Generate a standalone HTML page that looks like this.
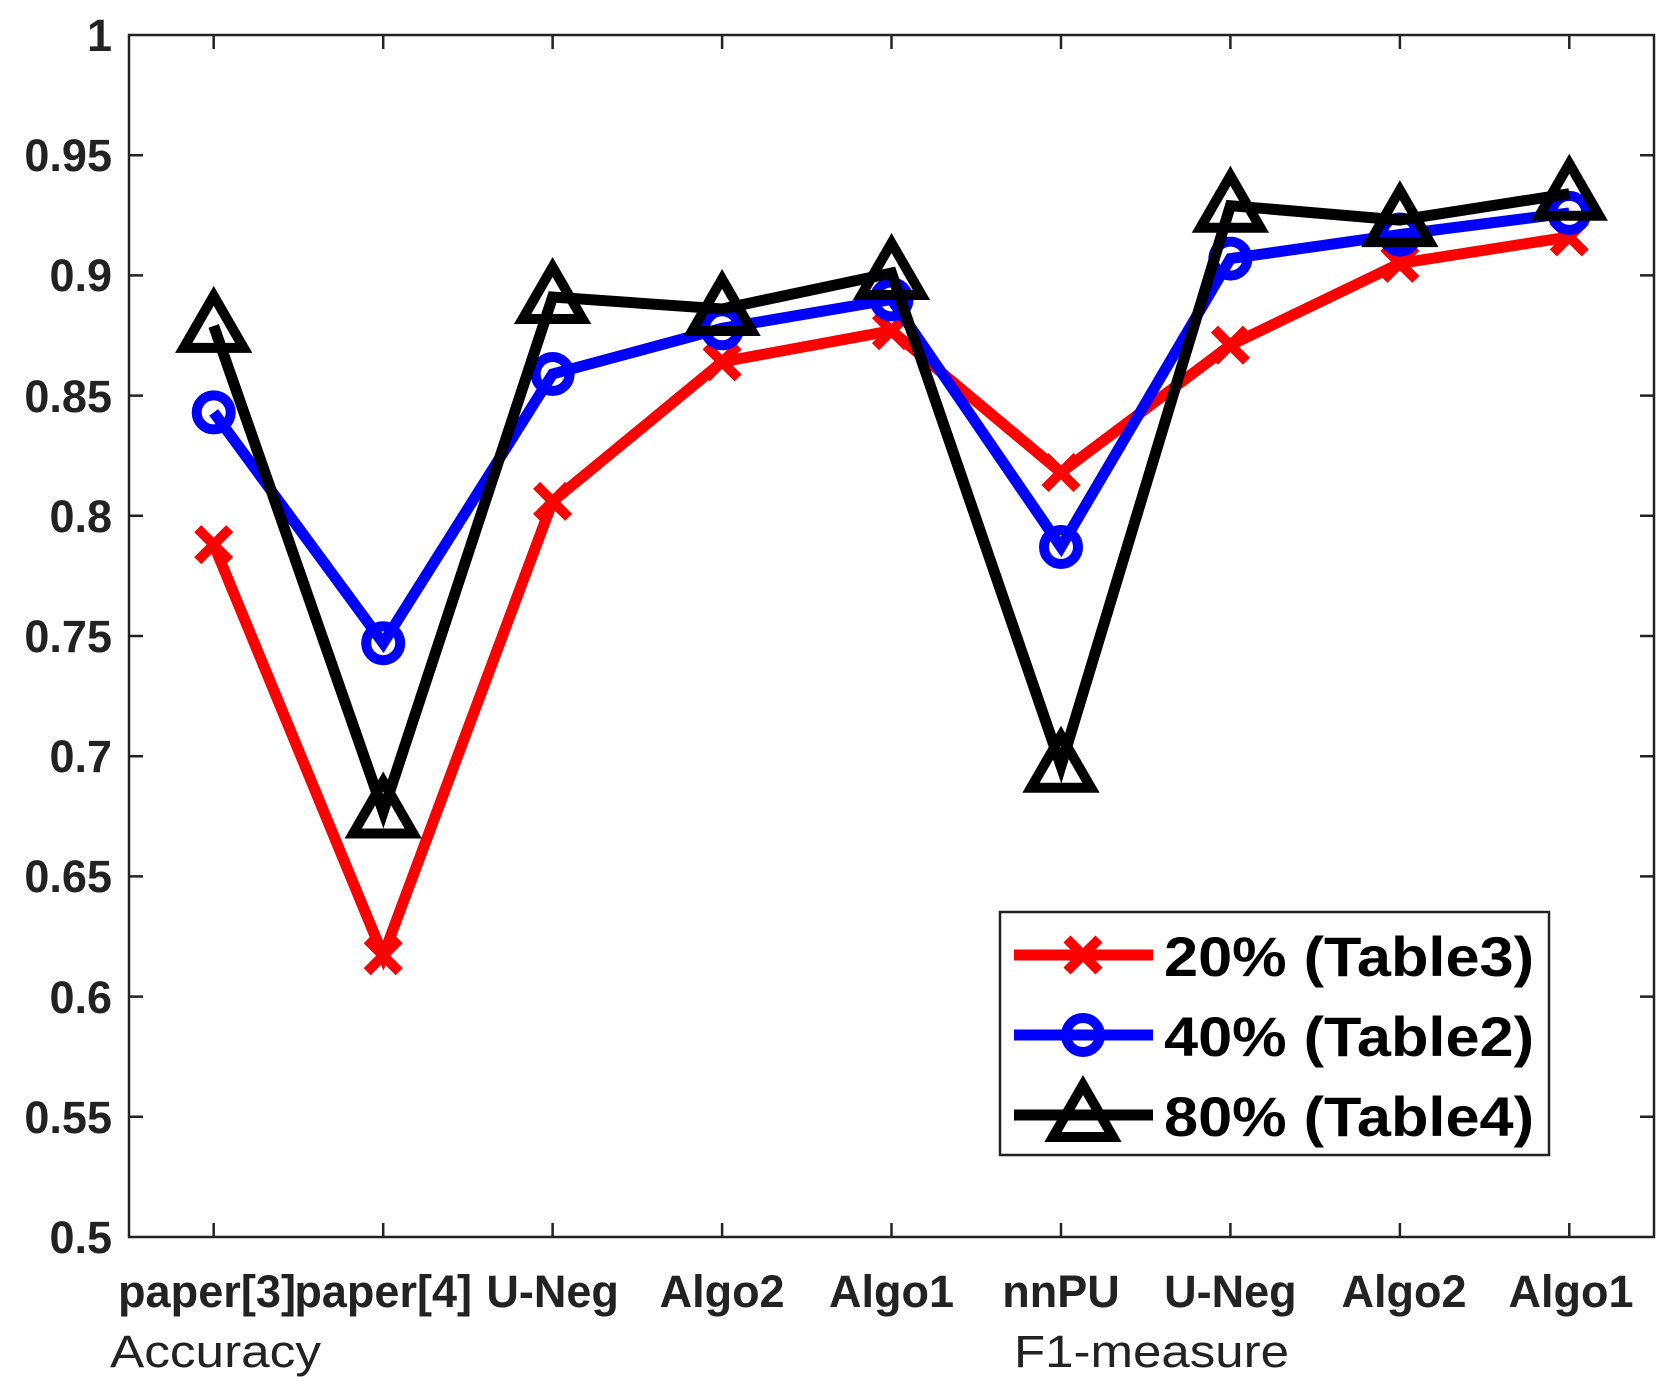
<!DOCTYPE html>
<html><head><meta charset="utf-8"><style>html,body{margin:0;padding:0;background:#fff}svg{display:block}</style></head>
<body>
<svg width="1677" height="1398" viewBox="0 0 1677 1398" xmlns="http://www.w3.org/2000/svg" xmlns:xlink="http://www.w3.org/1999/xlink" font-family="Liberation Sans, sans-serif">
<defs>
<path id="mx" d="M-16,-16L16,16M-16,16L16,-16" stroke="#f00" stroke-width="10" fill="none"/>
<circle id="mo" r="17" fill="none" stroke="#00f" stroke-width="10"/>
<path id="mt" d="M0,-30L30,22L-30,22Z" fill="none" stroke="#000" stroke-width="10"/>
</defs>
<rect width="1677" height="1398" fill="#fff"/>
<rect x="129" y="35" width="1525" height="1202" fill="none" stroke="#222" stroke-width="2.5"/>
<g stroke="#222" stroke-width="2.5">
<path d="M129,1116.8h14M129,996.6h14M129,876.4h14M129,756.2h14M129,636h14M129,515.8h14M129,395.6h14M129,275.4h14M129,155.2h14"/>
<path d="M1654,1116.8h-14M1654,996.6h-14M1654,876.4h-14M1654,756.2h-14M1654,636h-14M1654,515.8h-14M1654,395.6h-14M1654,275.4h-14M1654,155.2h-14"/>
<path d="M213.7,1237v-14M383.2,1237v-14M552.6,1237v-14M722.1,1237v-14M891.5,1237v-14M1061,1237v-14M1230.4,1237v-14M1399.9,1237v-14M1569.3,1237v-14"/>
<path d="M213.7,35v14M383.2,35v14M552.6,35v14M722.1,35v14M891.5,35v14M1061,35v14M1230.4,35v14M1399.9,35v14M1569.3,35v14"/>
</g>
<g font-size="45" font-weight="bold" fill="#222" text-anchor="end">
<text x="112" y="1253">0.5</text><text x="112" y="1133">0.55</text><text x="112" y="1013">0.6</text><text x="112" y="892">0.65</text><text x="112" y="772">0.7</text><text x="112" y="652">0.75</text><text x="112" y="532">0.8</text><text x="112" y="412">0.85</text><text x="112" y="291">0.9</text><text x="112" y="171">0.95</text><text x="112" y="51">1</text>
</g>
<g font-size="45" font-weight="bold" fill="#222" text-anchor="middle">
<text x="207" y="1307" textLength="178" lengthAdjust="spacingAndGlyphs">paper[3]</text><text x="383.2" y="1307">paper[4]</text><text x="552.6" y="1307">U-Neg</text><text x="722.1" y="1307">Algo2</text><text x="891.5" y="1307">Algo1</text><text x="1061" y="1307">nnPU</text><text x="1230.4" y="1307">U-Neg</text><text x="1404" y="1307">Algo2</text><text x="1571" y="1307">Algo1</text>
</g>
<text x="110" y="1367" font-size="45" fill="#222" textLength="211" lengthAdjust="spacingAndGlyphs">Accuracy</text>
<text x="1014" y="1367" font-size="45" fill="#222" textLength="275" lengthAdjust="spacingAndGlyphs">F1-measure</text>
<polyline points="213.7,544.6 383.2,955.7 552.6,501.4 722.1,361.9 891.5,330.7 1061,472.5 1230.4,345.1 1399.9,263.4 1569.3,236.9" fill="none" stroke="#f00" stroke-width="11"/>
<use xlink:href="#mx" x="213.7" y="544.6"/><use xlink:href="#mx" x="383.2" y="955.7"/><use xlink:href="#mx" x="552.6" y="501.4"/><use xlink:href="#mx" x="722.1" y="361.9"/><use xlink:href="#mx" x="891.5" y="330.7"/><use xlink:href="#mx" x="1061" y="472.5"/><use xlink:href="#mx" x="1230.4" y="345.1"/><use xlink:href="#mx" x="1399.9" y="263.4"/><use xlink:href="#mx" x="1569.3" y="236.9"/>
<polyline points="213.7,412.4 383.2,643.2 552.6,374 722.1,328.3 891.5,299.4 1061,547 1230.4,258.6 1399.9,234.5 1569.3,212.9" fill="none" stroke="#00f" stroke-width="11"/>
<use xlink:href="#mo" x="213.7" y="412.4"/><use xlink:href="#mo" x="383.2" y="643.2"/><use xlink:href="#mo" x="552.6" y="374"/><use xlink:href="#mo" x="722.1" y="328.3"/><use xlink:href="#mo" x="891.5" y="299.4"/><use xlink:href="#mo" x="1061" y="547"/><use xlink:href="#mo" x="1230.4" y="258.6"/><use xlink:href="#mo" x="1399.9" y="234.5"/><use xlink:href="#mo" x="1569.3" y="212.9"/>
<polyline points="213.7,325.9 383.2,811.5 552.6,297 722.1,309 891.5,273 1061,765.8 1230.4,205.7 1399.9,220.1 1569.3,193.7" fill="none" stroke="#000" stroke-width="11"/>
<use xlink:href="#mt" x="213.7" y="325.9"/><use xlink:href="#mt" x="383.2" y="811.5"/><use xlink:href="#mt" x="552.6" y="297"/><use xlink:href="#mt" x="722.1" y="309"/><use xlink:href="#mt" x="891.5" y="273"/><use xlink:href="#mt" x="1061" y="765.8"/><use xlink:href="#mt" x="1230.4" y="205.7"/><use xlink:href="#mt" x="1399.9" y="220.1"/><use xlink:href="#mt" x="1569.3" y="193.7"/>
<rect x="1000" y="912" width="549" height="243" fill="#fff" stroke="#222" stroke-width="2.5"/>
<line x1="1014" y1="955" x2="1153" y2="955" stroke="#f00" stroke-width="11"/><use xlink:href="#mx" x="1083" y="955"/>
<line x1="1014" y1="1035" x2="1153" y2="1035" stroke="#00f" stroke-width="11"/><use xlink:href="#mo" x="1083" y="1035"/>
<line x1="1014" y1="1115" x2="1153" y2="1115" stroke="#000" stroke-width="11"/><use xlink:href="#mt" x="1083" y="1115"/>
<g font-size="56" font-weight="bold" fill="#000">
<text x="1164" y="976" textLength="370" lengthAdjust="spacingAndGlyphs">20% (Table3)</text><text x="1164" y="1056" textLength="370" lengthAdjust="spacingAndGlyphs">40% (Table2)</text><text x="1164" y="1136" textLength="370" lengthAdjust="spacingAndGlyphs">80% (Table4)</text>
</g>
</svg>
</body></html>
